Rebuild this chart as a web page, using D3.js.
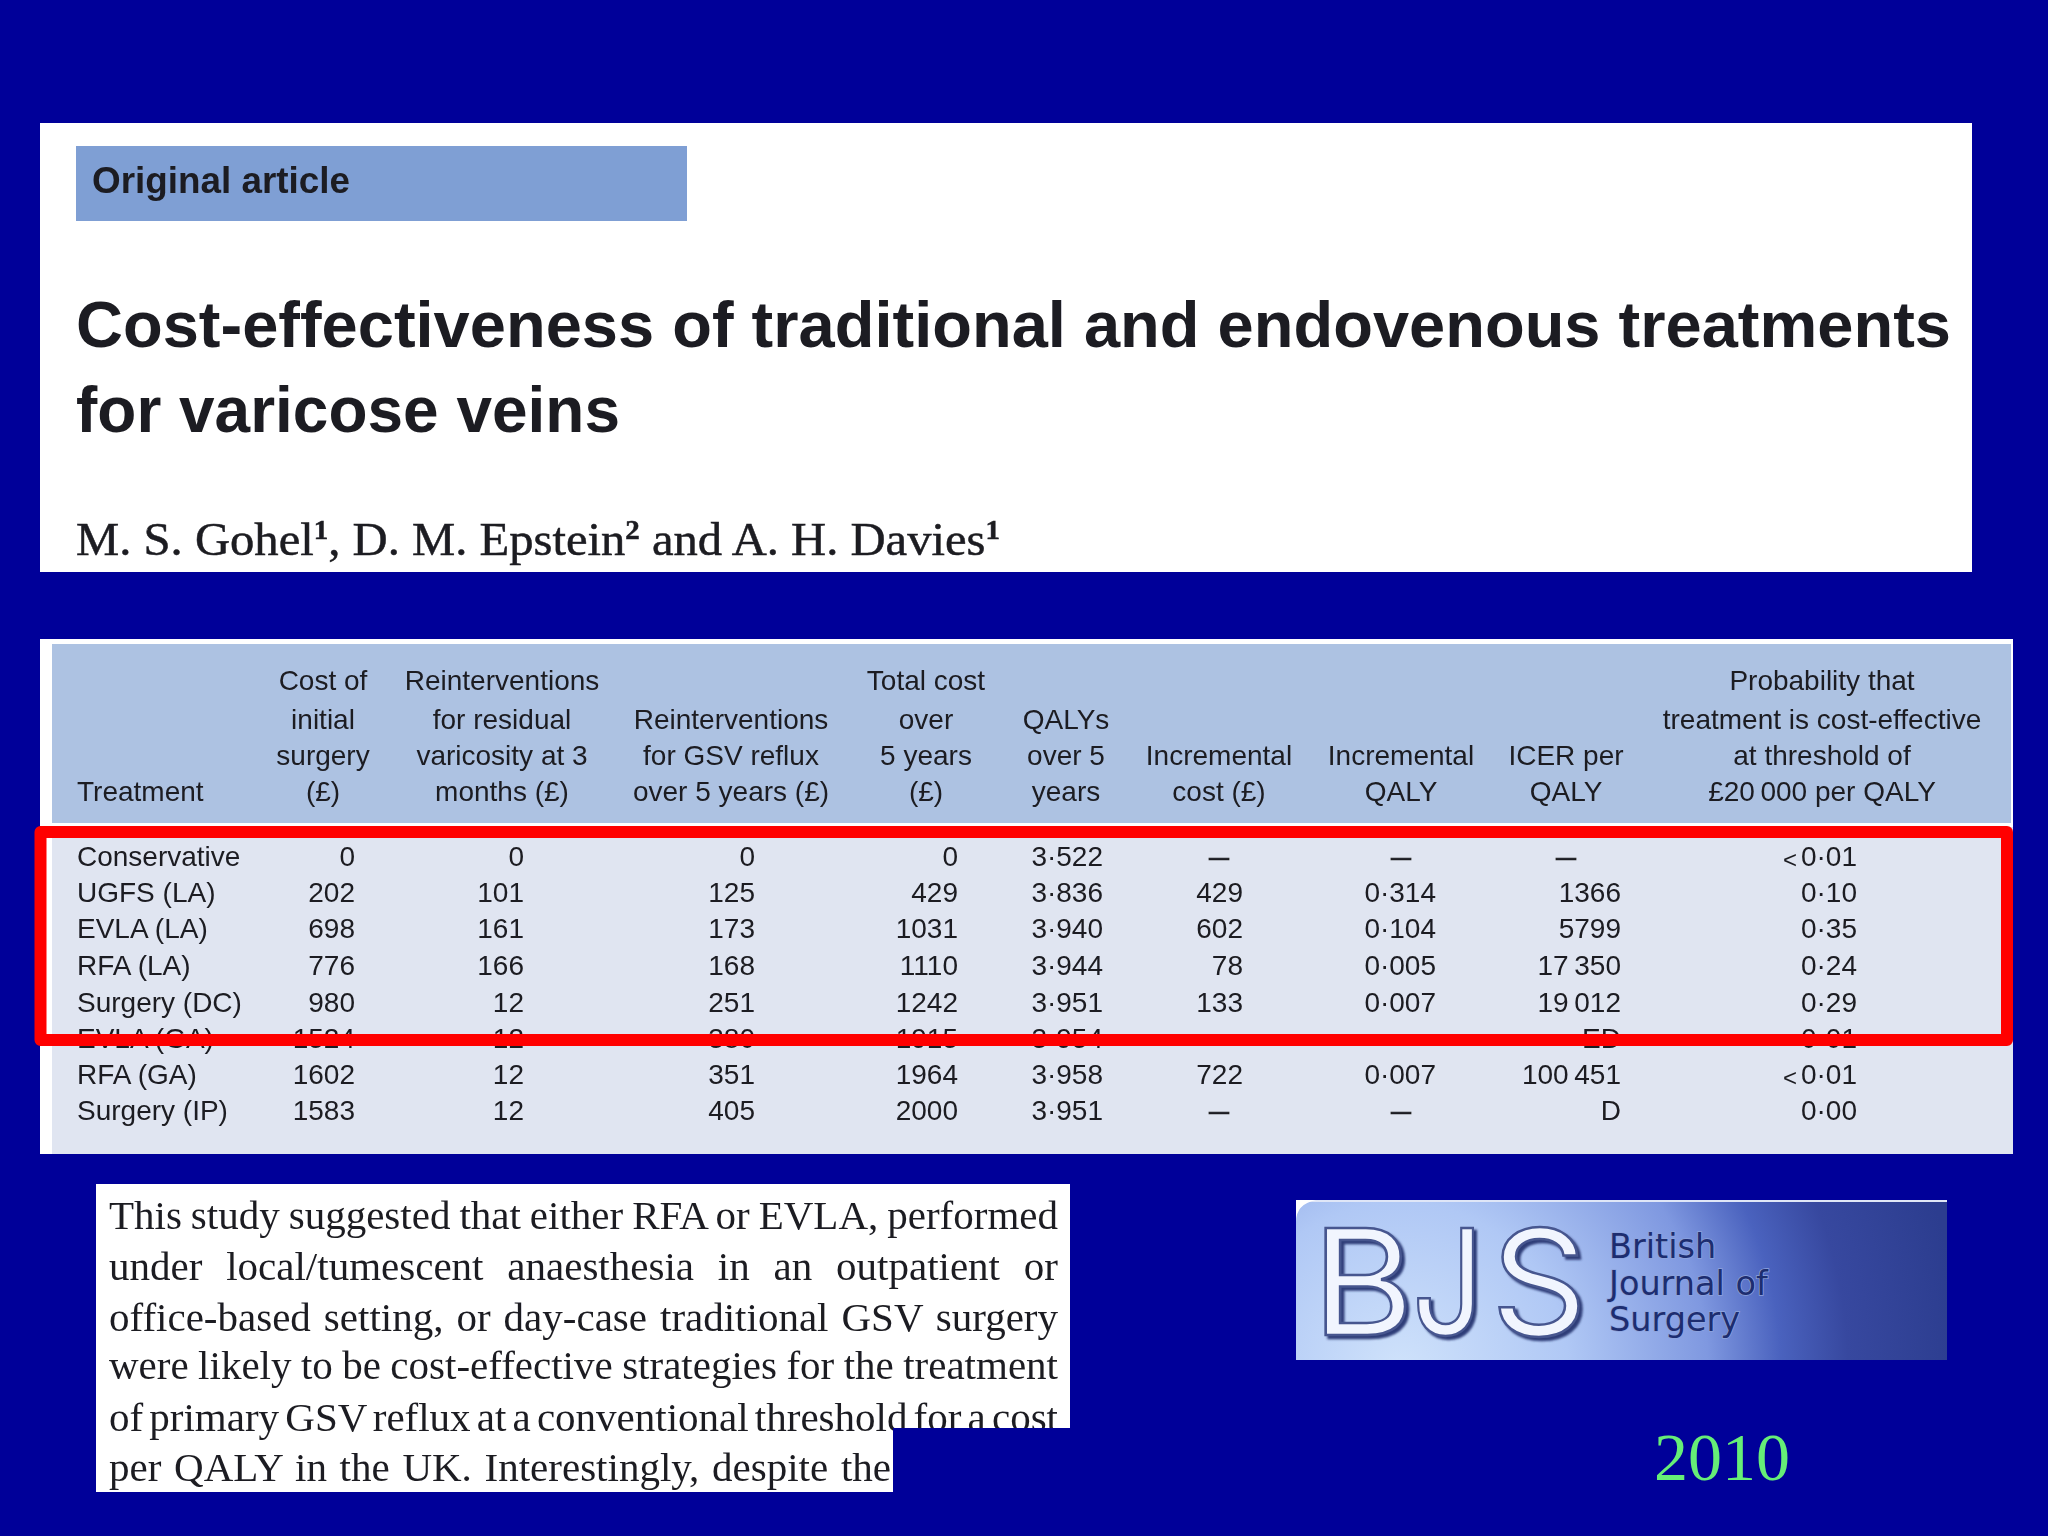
<!DOCTYPE html>
<html>
<head>
<meta charset="utf-8">
<script src="https://cdn.jsdelivr.net/npm/d3@7"></script>
<style>
  html, body { margin: 0; padding: 0; background: #000099; }
  svg { display: block; }
  .sans { font-family: "Liberation Sans", Arial, sans-serif; }
  .serif { font-family: "Liberation Serif", "Times New Roman", serif; }
</style>
</head>
<body>
<script>
// table values
var treatments = ["Conservative", "UGFS (LA)", "EVLA (LA)", "RFA (LA)", "Surgery (DC)", "EVLA (GA)", "RFA (GA)", "Surgery (IP)"];
var costInitial = ["0", "202", "698", "776", "980", "1524", "1602", "1583"];
var reintResidual = ["0", "101", "161", "166", "12", "12", "12", "12"];
var reintReflux = ["0", "125", "173", "168", "251", "380", "351", "405"];
var totalCost = ["0", "429", "1031", "1110", "1242", "1915", "1964", "2000"];
var qalys = ["3·522", "3·836", "3·940", "3·944", "3·951", "3·954", "3·958", "3·951"];
var incCost = ["–", "429", "602", "78", "133", "–", "722", "–"];
var incQaly = ["–", "0·314", "0·104", "0·005", "0·007", "–", "0·007", "–"];
var icer = ["–", "1366", "5799", "17\u2009350", "19\u2009012", "ED", "100\u2009451", "D"];
var probability = ["<0·01", "0·10", "0·35", "0·24", "0·29", "0·01", "<0·01", "0·00"];

var columns = ["cost", "residual", "reflux", "total", "qaly", "inccost", "incqaly", "icer", "prob"];
var columnValues = [costInitial, reintResidual, reintReflux, totalCost, qalys, incCost, incQaly, icer, probability];
var columnHeaders = [
  ["Cost of", "initial", "surgery", "(£)"],
  ["Reinterventions", "for residual", "varicosity at 3", "months (£)"],
  ["", "Reinterventions", "for GSV reflux", "over 5 years (£)"],
  ["Total cost", "over", "5 years", "(£)"],
  ["", "QALYs", "over 5", "years"],
  ["", "", "Incremental", "cost (£)"],
  ["", "", "Incremental", "QALY"],
  ["", "", "ICER per", "QALY"],
  ["Probability that", "treatment is cost-effective", "at threshold of", "£20\u2009000 per QALY"]
];

var titleLines = ["Cost-effectiveness of traditional and endovenous treatments", "for varicose veins"];
var paragraphLines = [
  "This study suggested that either RFA or EVLA, performed",
  "under local/tumescent anaesthesia in an outpatient or",
  "office-based setting, or day-case traditional GSV surgery",
  "were likely to be cost-effective strategies for the treatment",
  "of primary GSV reflux at a conventional threshold for a cost",
  "per QALY in the UK. Interestingly, despite the"
];
var journalLines = ["British", "Journal of", "Surgery"];
var logoLetters = ["B", "J", "S"];

var W = 2048, H = 1536;
var bg = "#000099", ink = "#1b1b20";

var svg = d3.select("body").append("svg").attr("width", W).attr("height", H);
var defs = svg.append("defs");

// the slide is a blurry screenshot, so soften the text a little
defs.append("filter").attr("id", "soft").append("feGaussianBlur").attr("stdDeviation", 0.55);

defs.append("filter").attr("id", "logoShadow")
  .append("feDropShadow")
  .attr("dx", 3).attr("dy", 3).attr("stdDeviation", 0.8)
  .attr("flood-color", "#2d3c78");

var logoGrad = defs.append("radialGradient").attr("id", "logoGrad")
  .attr("gradientUnits", "userSpaceOnUse")
  .attr("cx", 1400).attr("cy", 1370).attr("r", 560);
logoGrad.selectAll("stop")
  .data([[0, "#cfe2fb"], [0.3, "#b0c8f5"], [0.55, "#7f98e0"], [0.68, "#4a62be"], [0.8, "#37489f"], [1, "#2c3d8f"]])
  .enter().append("stop")
  .attr("offset", function(d) { return d[0]; })
  .attr("stop-color", function(d) { return d[1]; });

svg.append("rect").attr("width", W).attr("height", H).attr("fill", bg);

// ---- article header panel
svg.append("rect").attr("x", 40).attr("y", 123).attr("width", 1932).attr("height", 449).attr("fill", "#fff");
svg.append("rect").attr("x", 76).attr("y", 146).attr("width", 611).attr("height", 75).attr("fill", "#7f9fd4");

var textLayer = svg.append("g").attr("filter", "url(#soft)");

textLayer.append("text").attr("class", "sans")
  .attr("x", 92).attr("y", 193)
  .attr("font-size", 36).attr("font-weight", "bold").attr("fill", ink)
  .attr("textLength", 258).attr("lengthAdjust", "spacingAndGlyphs")
  .text("Original article");

var titleY = d3.scalePoint().domain(titleLines).range([347, 432]);
var titleWidths = [1875, 544];
textLayer.selectAll(".title")
  .data(titleLines)
  .enter().append("text").attr("class", "title sans")
  .attr("x", 76).attr("y", function(d) { return titleY(d); })
  .attr("font-size", 64).attr("font-weight", "bold").attr("fill", ink)
  .attr("textLength", function(d, i) { return titleWidths[i]; })
  .attr("lengthAdjust", "spacingAndGlyphs")
  .text(function(d) { return d; });

var authors = textLayer.append("text").attr("class", "serif")
  .attr("x", 76).attr("y", 555)
  .attr("font-size", 47).attr("fill", ink)
  .attr("stroke", ink).attr("stroke-width", 0.5)
  .attr("textLength", 924).attr("lengthAdjust", "spacingAndGlyphs");
[["M. S. Gohel", 0], ["1", 1], [", D. M. Epstein", 0], ["2", 1], [" and A. H. Davies", 0], ["1", 1]].forEach(function(p, i, all) {
  var prevSup = i > 0 && all[i - 1][1];
  authors.append("tspan")
    .attr("dy", p[1] ? -16 : (prevSup ? 16 : 0))
    .attr("font-size", p[1] ? 28 : 47)
    .attr("font-weight", p[1] ? "bold" : "normal")
    .text(p[0]);
});

// ---- table panel
svg.insert("rect", "g").attr("x", 40).attr("y", 639).attr("width", 1973).attr("height", 515).attr("fill", "#fff");
svg.insert("rect", "g").attr("x", 52).attr("y", 644).attr("width", 1959).attr("height", 179).attr("fill", "#adc2e2");
svg.insert("rect", "g").attr("x", 52).attr("y", 827).attr("width", 1961).attr("height", 327).attr("fill", "#e0e5f1");

var tableSize = 28;
// right edge of the numbers and centre of the heading for each column
var xRight = d3.scaleOrdinal().domain(columns).range([355, 524, 755, 958, 1103, 1243, 1436, 1621, 1857]);
var xCentre = d3.scaleOrdinal().domain(columns).range([323, 502, 731, 926, 1066, 1219, 1401, 1566, 1822]);
var yRow = d3.scaleOrdinal().domain(treatments).range([866, 902, 938, 974.5, 1012, 1048, 1084, 1120]);
var yHead = d3.scaleOrdinal().domain([0, 1, 2, 3]).range([690, 729, 765, 801]);

textLayer.append("text").attr("class", "sans")
  .attr("x", 77).attr("y", yHead(3))
  .attr("font-size", tableSize).attr("fill", ink)
  .text("Treatment");

var headCols = textLayer.selectAll(".head")
  .data(columns)
  .enter().append("g").attr("class", "head sans");

headCols.selectAll("text")
  .data(function(c, i) {
    return columnHeaders[i].map(function(t, j) { return { col: c, line: j, text: t }; });
  })
  .enter().append("text")
  .attr("x", function(d) { return xCentre(d.col); })
  .attr("y", function(d) { return yHead(d.line); })
  .attr("text-anchor", "middle")
  .attr("font-size", tableSize).attr("fill", ink)
  .text(function(d) { return d.text; });

textLayer.selectAll(".rowname")
  .data(treatments)
  .enter().append("text").attr("class", "rowname sans")
  .attr("x", 77).attr("y", function(d) { return yRow(d); })
  .attr("font-size", tableSize).attr("fill", ink)
  .text(function(d) { return d; });

var cols = textLayer.selectAll(".col")
  .data(columns)
  .enter().append("g").attr("class", "col sans");

cols.selectAll("text")
  .data(function(c, i) {
    return columnValues[i].map(function(v, j) { return { col: c, row: treatments[j], value: v }; });
  })
  .enter().append("text")
  .attr("x", function(d) { return d.value === "–" ? xCentre(d.col) : xRight(d.col); })
  .attr("y", function(d) { return yRow(d.row); })
  .attr("text-anchor", function(d) { return d.value === "–" ? "middle" : "end"; })
  .attr("font-size", tableSize).attr("fill", ink)
  .each(function(d) {
    var t = d3.select(this);
    if (d.value === "–") {
      // dashes are wider and heavier in the reference
      t.attr("stroke", ink).attr("stroke-width", 0.6).attr("textLength", 20).attr("lengthAdjust", "spacingAndGlyphs").text(d.value);
    } else if (d.value.charAt(0) === "<") {
      // small less-than sign, set apart from the number
      t.append("tspan").attr("font-size", 24).attr("dy", 2).text("<");
      t.append("tspan").attr("dy", -2).attr("dx", 4).text(d.value.slice(1));
    } else {
      t.text(d.value);
    }
  });

// ---- paragraph panel, with the notch cut out at the lower right
svg.insert("path", "g")
  .attr("d", d3.line()([[96, 1184], [1070, 1184], [1070, 1428], [893, 1428], [893, 1492], [96, 1492]]) + "Z")
  .attr("fill", "#fff");

var paraY = d3.scaleOrdinal().domain(paragraphLines).range([1229, 1280, 1331, 1379, 1431, 1481]);
var paraSize = 41;
var paraText = textLayer.selectAll(".para")
  .data(paragraphLines)
  .enter().append("text").attr("class", "para serif")
  .attr("x", 109).attr("y", function(d) { return paraY(d); })
  .attr("font-size", paraSize).attr("fill", ink)
  .text(function(d) { return d; });

// justify each line with word spacing, as the journal column does
paraText.each(function(d, i) {
  var target = i === 5 ? 782 : 949;
  var gaps = d.split(" ").length - 1;
  var len = this.getComputedTextLength();
  d3.select(this).attr("word-spacing", (target - len) / gaps);
});

svg.append("rect").attr("x", 893).attr("y", 1428).attr("width", 190).attr("height", 70).attr("fill", bg);

// ---- BJS logo
svg.append("rect").attr("x", 1296).attr("y", 1200).attr("width", 651).attr("height", 160).attr("fill", "url(#logoGrad)");
svg.append("rect").attr("x", 1296).attr("y", 1200).attr("width", 651).attr("height", 2).attr("fill", "#dfe6f7");
svg.append("path").attr("d", "M1296 1200h20q-20 4 -20 22z").attr("fill", "#fff");

var logo = svg.append("g").attr("class", "logo");
var xLetter = d3.scaleOrdinal().domain(logoLetters).range([1312, 1412, 1491]);
var letterWidth = d3.scaleOrdinal().domain(logoLetters).range([102, 72, 96]);
logo.append("g").attr("filter", "url(#logoShadow)").selectAll("text")
  .data(logoLetters)
  .enter().append("text")
  .attr("x", function(d) { return xLetter(d); })
  .attr("y", 1335)
  .attr("font-family", "Inter, 'DejaVu Sans', sans-serif")
  .attr("font-weight", 400).attr("font-size", 147)
  .attr("fill", "#f1f5fe").attr("stroke", "#46568f").attr("stroke-width", 2.5)
  .attr("textLength", function(d) { return letterWidth(d); })
  .attr("lengthAdjust", "spacingAndGlyphs")
  .text(function(d) { return d; });

var yJournal = d3.scalePoint().domain(journalLines).range([1258, 1331]);
logo.selectAll(".journal")
  .data(journalLines)
  .enter().append("text").attr("class", "journal")
  .attr("x", 1609).attr("y", function(d) { return yJournal(d); })
  .attr("font-family", "'DejaVu Sans', sans-serif")
  .attr("font-size", 33.5).attr("fill", "#1d2d70")
  .attr("stroke", "#8ea4dc").attr("stroke-width", 1.5).attr("paint-order", "stroke")
  .text(function(d) { return d; });

svg.append("text").attr("class", "serif")
  .attr("x", 1654).attr("y", 1480)
  .attr("font-size", 68).attr("fill", "#66ee77")
  .attr("textLength", 136).attr("lengthAdjust", "spacingAndGlyphs")
  .text("2010");

// ---- red highlight box goes over the table
svg.append("rect")
  .attr("x", 40.5).attr("y", 832).attr("width", 1966.5).attr("height", 208)
  .attr("fill", "none").attr("stroke", "#ff0000").attr("stroke-width", 12)
  .attr("stroke-linejoin", "round");
</script>
</body>
</html>
